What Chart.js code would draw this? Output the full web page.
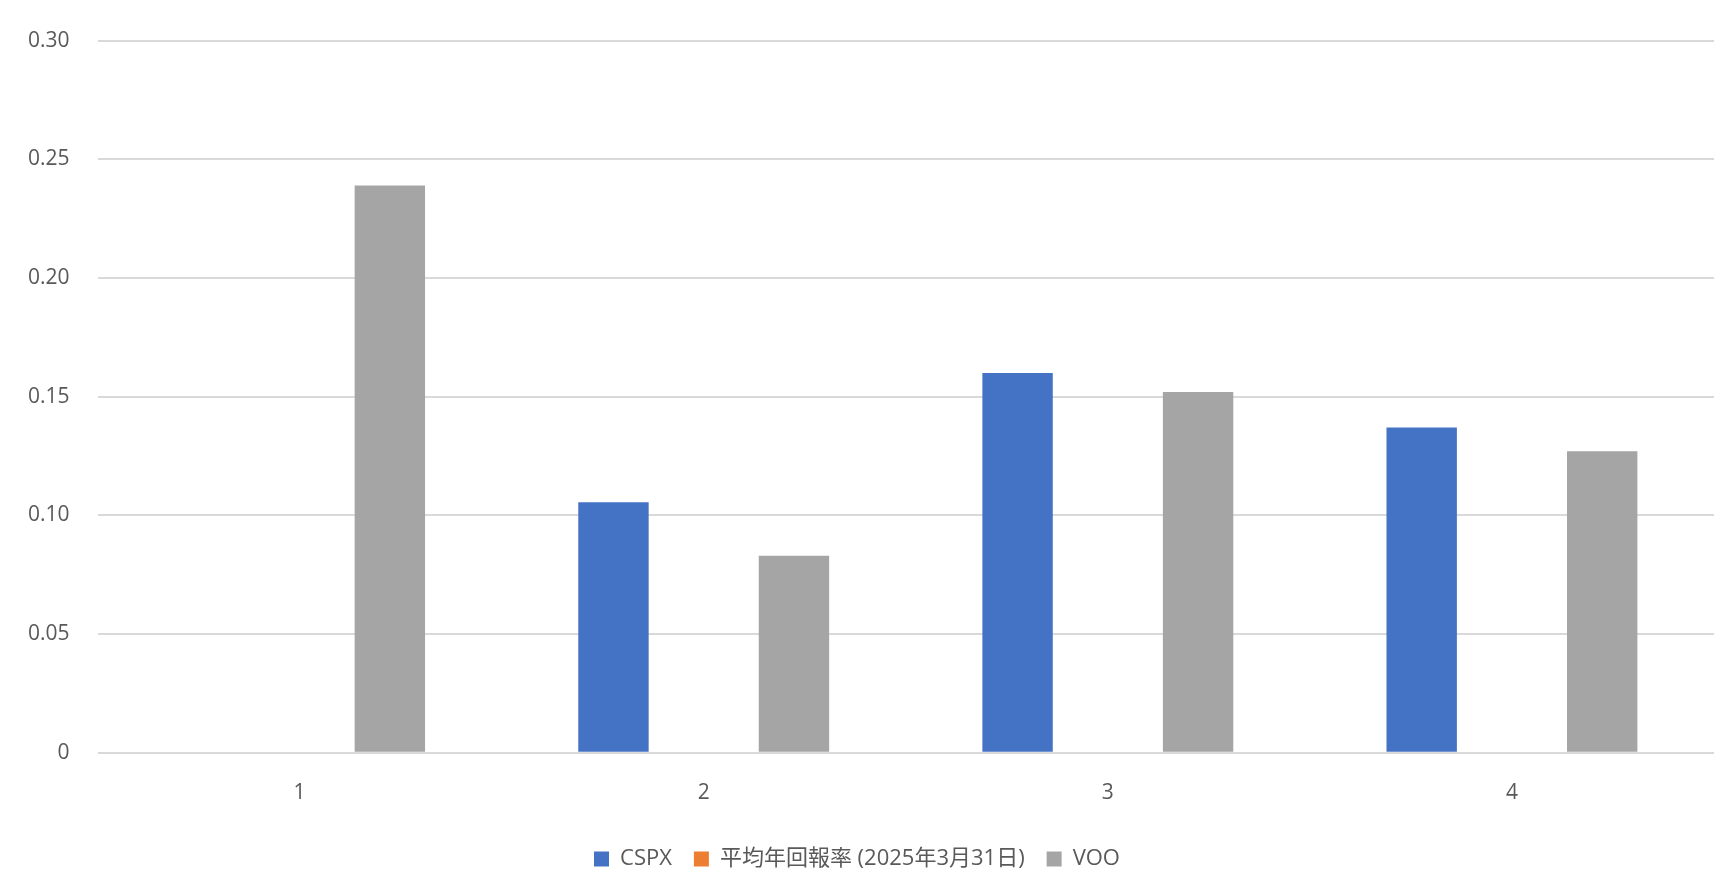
<!DOCTYPE html>
<html>
<head>
<meta charset="utf-8">
<script src="https://cdn.jsdelivr.net/npm/chart.js@4"></script>
<style>
  html, body { margin: 0; padding: 0; background: #fff; }
  #wrap { width: 1734px; height: 890px; }
</style>
</head>
<body>
<div id="wrap"><canvas id="chart"></canvas></div>
<script>
'use strict';

// カテゴリ
const categories = ['1', '2', '3', '4'];
// 系列の値
const cspxValues = [null, 0.1055, 0.16, 0.137];
const avgValues = [null, null, null, null];
const vooValues = [0.239, 0.083, 0.152, 0.127];
// 軸の目盛
const yTicks = [0, 0.05, 0.1, 0.15, 0.2, 0.25, 0.3];

const FONT = "'Open Sans', 'Noto Sans CJK JP', sans-serif";

function bar(label, data, color) {
    return {
        label: label,
        data: data,
        backgroundColor: color,
        borderWidth: 0,
        barPercentage: 0.78,
        categoryPercentage: 0.67
    };
}

new Chart(document.getElementById('chart'), {
    type: 'bar',
    data: {
        labels: categories,
        datasets: [
            bar('CSPX', cspxValues, '#4472C4'),
            bar('平均年回報率 (2025年3月31日)', avgValues, '#ED7D31'),
            bar('VOO', vooValues, '#A5A5A5')
        ]
    },
    options: {
        responsive: true,
        maintainAspectRatio: false,
        animation: false,
        layout: { padding: { left: 0, right: 20, top: 28, bottom: 10 } },
        plugins: {
            tooltip: { enabled: false },
            legend: {
                position: 'bottom',
                labels: {
                    boxWidth: 15, boxHeight: 15, padding: 22,
                    color: '#595959',
                    font: { family: FONT, size: 22 }
                }
            }
        },
        scales: {
            x: {
                grid: { display: false },
                border: { display: false },
                ticks: { color: '#595959', padding: 20, font: { family: FONT, size: 21 } }
            },
            y: {
                min: 0, max: 0.3,
                afterBuildTicks: axis => { axis.ticks = yTicks.map(v => ({ value: v })); },
                grid: { color: '#D9D9D9', lineWidth: 2, drawTicks: false },
                border: { display: false },
                ticks: { color: '#595959', padding: 28, font: { family: FONT, size: 21 } }
            }
        }
    }
});
</script>
</body>
</html>
